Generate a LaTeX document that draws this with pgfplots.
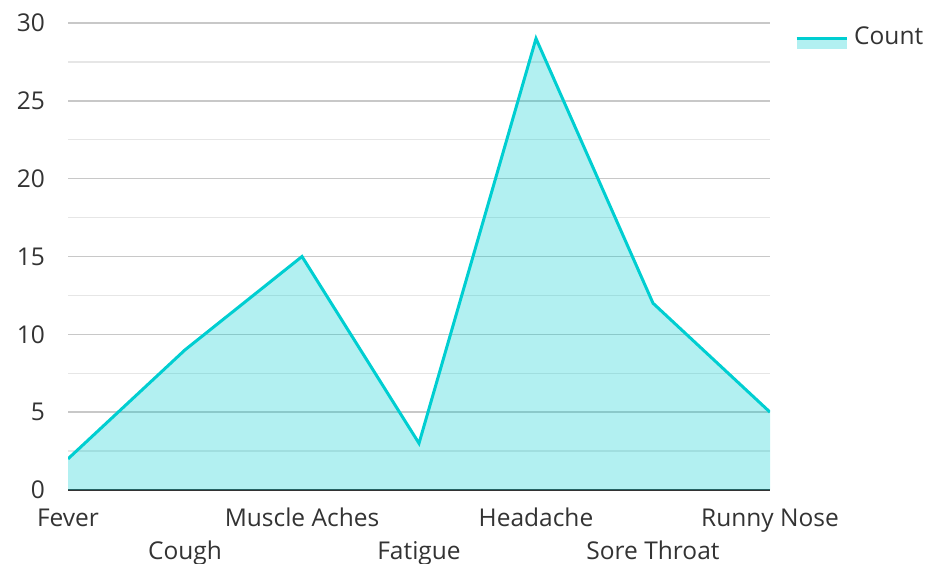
\documentclass[border=0pt]{standalone}
\usepackage{fontspec}
\setmainfont{Open Sans}
\usepackage{pgfplots}
\pgfplotsset{compat=1.18}
\definecolor{turq}{HTML}{00CED1}
\definecolor{txtgray}{HTML}{333333}
\definecolor{majgrid}{HTML}{C8C8C8}
\definecolor{mingrid}{HTML}{E6E6E6}
\begin{document}
\fontsize{24.5pt}{29pt}\selectfont
\begin{tikzpicture}[x=1pt,y=1pt]
\path[use as bounding box] (0,0) rectangle (928,564);
\begin{axis}[
    at={(68pt,74pt)}, anchor=south west,
    scale only axis, width=702pt, height=467pt,
    xmin=0, xmax=6, ymin=0, ymax=30,
    axis x line=bottom, axis y line=left,
    x axis line style={-, draw=txtgray, line width=2pt},
    y axis line style={draw=none},
    major tick length=0pt, minor tick length=0pt,
    tick style={draw=none},
    /pgf/number format/assume math mode=true,
    ytick={0,5,...,30},
    minor y tick num=1,
    ymajorgrids, yminorgrids,
    major grid style={majgrid, line width=1.5pt},
    minor grid style={mingrid, line width=1.2pt},
    y tick label style={anchor=east, inner sep=0pt, xshift=-23pt, text=txtgray},
    xtick={0,2,4,6},
    xticklabels={Fever,Muscle Aches,Headache,Runny Nose},
    x tick label style={anchor=base, inner sep=0pt, yshift=-37pt, text=txtgray},
    extra x ticks={1,3,5},
    extra x tick labels={Cough,Fatigue,Sore Throat},
    extra x tick style={x tick label style={yshift=-33pt}},
    legend style={at={(axis description cs:1,1)}, anchor=north west,
        xshift=25pt, yshift=-4pt, draw=none, fill=none, inner sep=0pt,
        nodes={inner sep=0pt, text=txtgray}},
    legend image code/.code={
        \path[draw=none, fill=turq, fill opacity=0.3] (0pt,-11pt) rectangle (50pt,0pt);
        \draw[turq, line width=3pt] (0pt,-0.5pt)--(50pt,-0.5pt);
    },
]
\addplot[draw=none, fill=turq, fill opacity=0.3, forget plot] coordinates {
    (0,2) (1,9) (2,15) (3,3) (4,29) (5,12) (6,5)
} \closedcycle;
\addplot[turq, line width=3pt] coordinates {
    (0,2) (1,9) (2,15) (3,3) (4,29) (5,12) (6,5)
};
\addlegendentry{\hspace{6pt}Count}
\end{axis}
\end{tikzpicture}
\end{document}
